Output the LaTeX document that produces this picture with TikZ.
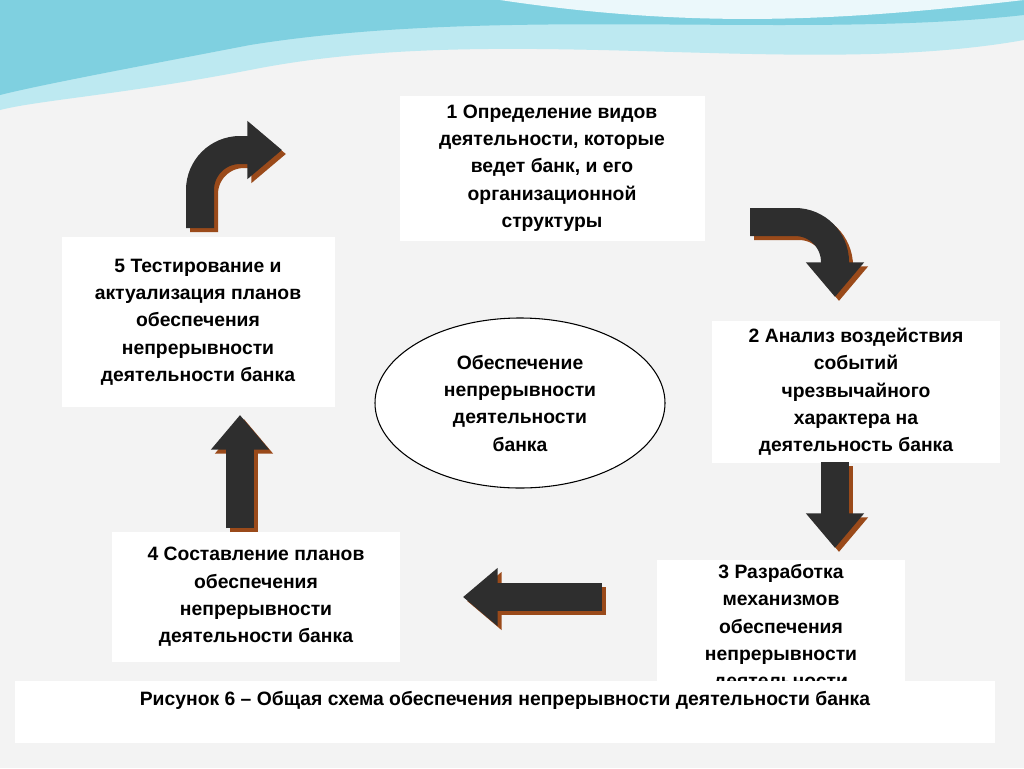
\documentclass[tikz,border=0pt]{standalone}
\usepackage{fontspec}
\setmainfont{Liberation Sans}
\usetikzlibrary{arrows.meta,shapes.geometric}
\definecolor{bg}{HTML}{F3F3F3}
\definecolor{wave}{HTML}{7FD0E0}
\definecolor{wave2}{HTML}{BDE9F1}
\definecolor{arr}{HTML}{2E2E2E}
\definecolor{shd}{HTML}{9A4A1A}
\tikzset{
 box/.style={fill=white,align=center,font=\bfseries\fontsize{14.5}{20.5}\selectfont},
 arrbody/.style={line width=21pt,-{Triangle[length=26pt,width=42pt]},arr},
 arrshadow/.style={line width=21pt,-{Triangle[length=26pt,width=42pt]},shd},
}
\begin{document}
\begin{tikzpicture}[x=0.75pt,y=-0.75pt]
\useasboundingbox (0,0) rectangle (1024,768);
\fill[bg] (0,0) rectangle (1024,768);
\fill[wave2] (0,0) -- (1024,0) -- (1024,40) .. controls (800,80) and (500,20) .. (250,70) .. controls (120,95) and (40,100) .. (0,110) -- cycle;
\fill[wave] (0,0) -- (1024,0) -- (1024,15) .. controls (800,40) and (500,5) .. (250,45) .. controls (120,70) and (40,85) .. (0,95) -- cycle;
\fill[white!70!wave2] (500,0) .. controls (700,30) and (850,20) .. (1024,0) -- cycle;

\node[box,minimum width=305*0.75pt,minimum height=145*0.75pt] (b1) at (552,168) {1 Определение видов\\деятельности, которые\\ведет банк, и его\\организационной\\структуры};
\node[box,minimum width=288*0.75pt,minimum height=142*0.75pt] (b2) at (856,392) {2 Анализ воздействия\\событий\\чрезвычайного\\характера на\\деятельность банка};
\node[box,minimum width=248*0.75pt,minimum height=135*0.75pt] (b3) at (781,628) {3 Разработка\\механизмов\\обеспечения\\непрерывности\\деятельности};
\node[box,minimum width=288*0.75pt,minimum height=130*0.75pt] (b4) at (256,597) {4 Составление планов\\обеспечения\\непрерывности\\деятельности банка};
\node[box,minimum width=273*0.75pt,minimum height=170*0.75pt] (b5) at (198,322) {5 Тестирование и\\актуализация планов\\обеспечения\\непрерывности\\деятельности банка};
\node[box,draw=black,thick,ellipse,minimum width=290*0.75pt,minimum height=170*0.75pt,inner sep=0pt] (c) at (520,403) {Обеспечение\\непрерывности\\деятельности\\банка};
\node[fill=white,minimum width=980*0.75pt,minimum height=62*0.75pt,font=\bfseries\fontsize{14.5}{20}\selectfont] (cap) at (505,712) {};
\node[font=\bfseries\fontsize{14.5}{20}\selectfont] (capt) at (505,700) {Рисунок 6 – Общая схема обеспечения непрерывности деятельности банка};

\foreach \s/\o in {arrshadow/4,arrbody/0}{
 \draw[\s,rounded corners=30pt] (200+\o,228+\o) -- (200+\o,150+\o) -- (282+\o,150+\o);
 \draw[\s,rounded corners=30pt] (750+\o,222+\o) -- (835+\o,222+\o) -- (835+\o,297+\o);
 \draw[\s] (835+\o,462+\o) -- (835+\o,548+\o);
 \draw[\s] (602+\o,597+\o) -- (463+\o,597+\o);
 \draw[\s] (240+\o,528+\o) -- (240+\o,415+\o);
}
\end{tikzpicture}
\end{document}
